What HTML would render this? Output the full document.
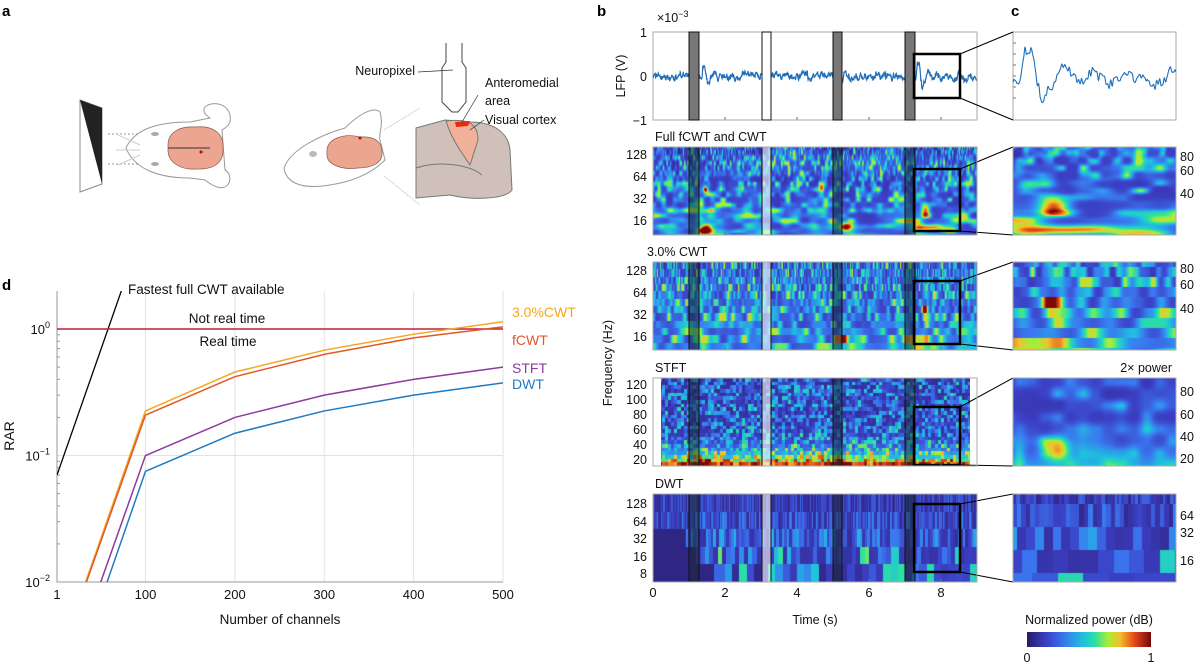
<!DOCTYPE html>
<html><head><meta charset="utf-8">
<style>
html,body{margin:0;padding:0;background:#fff;width:1200px;height:667px;overflow:hidden;}
#root{position:relative;width:1200px;height:667px;overflow:hidden;font-family:"Liberation Sans",sans-serif;}
canvas{position:absolute;display:block;}
svg{position:absolute;left:0;top:0;display:block;}
</style></head>
<body>
<div id="root">
<canvas id="cw1" style="left:653px;top:147px" width="324" height="88"></canvas>
<canvas id="cw1c" style="left:1013px;top:147px" width="163" height="88"></canvas>
<canvas id="cw3" style="left:653px;top:262px" width="324" height="88"></canvas>
<canvas id="cw3c" style="left:1013px;top:262px" width="163" height="88"></canvas>
<canvas id="st" style="left:661px;top:378px" width="309" height="88"></canvas>
<canvas id="stc" style="left:1013px;top:378px" width="163" height="88"></canvas>
<canvas id="dw" style="left:653px;top:494px" width="324" height="88"></canvas>
<canvas id="dwc" style="left:1013px;top:494px" width="163" height="88"></canvas>
<canvas id="cbar" style="left:1027px;top:632px" width="124" height="15"></canvas>

<svg id="svg" width="1200" height="667" viewBox="0 0 1200 667" font-family="Liberation Sans, sans-serif">
  <text x="2" y="16" font-size="15" font-weight="bold">a</text>
  <text x="597" y="16" font-size="15" font-weight="bold">b</text>
  <text x="1011" y="16" font-size="15" font-weight="bold">c</text>
  <text x="2" y="290" font-size="15" font-weight="bold">d</text>

  <g stroke="#999" fill="none" stroke-width="1">
    <polygon points="80,100 102,108 102,184 80,192" fill="#fff" stroke="#888"/>
    <polygon points="80,100 102,108 102,184" fill="#222" stroke="none"/>
    <line x1="108" y1="134" x2="148" y2="134" stroke-dasharray="2,2"/>
    <line x1="108" y1="164" x2="148" y2="164" stroke-dasharray="2,2"/>
    <path d="M126,148 C135,128 160,122 190,122 L210,118 C190,105 225,95 230,115 C232,125 225,128 222,130 L225,170 C235,175 230,200 205,180 L190,178 C160,178 135,170 126,148 Z" fill="#fff"/>
    <path d="M118,135 L140,145 M116,150 L140,150 M118,165 L140,155" stroke="#ccc"/>
    <ellipse cx="155" cy="134" rx="4" ry="2" fill="#aaa" stroke="none"/>
    <ellipse cx="155" cy="164" rx="4" ry="2" fill="#aaa" stroke="none"/>
    <path d="M168,145 C168,132 180,126 195,127 C215,125 224,135 223,148 C224,162 215,170 195,169 C180,170 168,162 168,150 Z" fill="#eba590" stroke="#8a5a4a" stroke-width="0.7"/>
    <line x1="168" y1="148" x2="210" y2="148" stroke="#333"/>
    <circle cx="201" cy="152" r="1.5" fill="#c00" stroke="none"/>
    <path d="M284,168 C290,150 320,135 345,128 C355,118 372,105 380,112 C384,125 378,135 380,140 L385,160 C370,175 350,182 330,185 C300,190 286,182 284,168 Z" fill="#fff"/>
    <ellipse cx="313" cy="154" rx="4" ry="3" fill="#bbb" stroke="none"/>
    <path d="M327,150 C328,138 345,133 360,137 C375,136 382,142 382,152 C383,163 372,168 358,168 C345,170 327,166 327,155 Z" fill="#eba590" stroke="#8a5a4a" stroke-width="0.7"/>
    <circle cx="360" cy="138" r="1.5" fill="#c00" stroke="none"/>
    <line x1="384" y1="130" x2="420" y2="108" stroke="#bbb" stroke-dasharray="1,1"/>
    <line x1="384" y1="176" x2="420" y2="205" stroke="#bbb" stroke-dasharray="1,1"/>
    <path d="M416,128 L445,120 L470,122 C490,122 508,130 510,150 L512,190 C505,200 470,200 450,195 L416,198 Z" fill="#cfc0ba" stroke="#777"/>
    <path d="M446,121 C470,118 478,125 478,140 L470,165 C460,150 452,140 446,121 Z" fill="#f0b09a" stroke="#777"/>
    <path d="M455,122 L470,121 L468,126 L456,127 Z" fill="#e52a10" stroke="none"/>
    <path d="M416,168 C440,160 470,165 482,175" stroke="#777"/>
    <path d="M446,43 L446,62 L442,68 L442,102 L452,112 L458,112 L466,102 L466,68 L462,62 L462,43" stroke="#444" fill="#fff"/>
  </g>
  <g font-size="12.5" fill="#111">
    <text x="415" y="75" text-anchor="end">Neuropixel</text>
    <line x1="418" y1="72" x2="453" y2="70" stroke="#333" stroke-width="0.7"/>
    <text x="485" y="87">Anteromedial</text>
    <text x="485" y="105">area</text>
    <text x="485" y="124">Visual cortex</text>
    <line x1="478" y1="95" x2="462" y2="122" stroke="#333" stroke-width="0.7"/>
    <line x1="484" y1="120" x2="470" y2="130" stroke="#333" stroke-width="0.7"/>
  </g>

  <g id="lfpAxes">
    <rect x="653" y="32" width="324" height="88" fill="none" stroke="#aaa" stroke-width="1"/>
  </g>
  <g font-size="12.5" fill="#111">
    <text x="657" y="22">×10<tspan dy="-5" font-size="9">−3</tspan></text>
    <text x="647" y="37" text-anchor="end">1</text>
    <text x="647" y="81" text-anchor="end">0</text>
    <text x="647" y="125" text-anchor="end">−1</text>
    <text transform="translate(625,76) rotate(-90)" text-anchor="middle">LFP (V)</text>
    <text x="655" y="141">Full fCWT and CWT</text>
    <text x="647" y="256">3.0% CWT</text>
    <text x="655" y="372">STFT</text>
    <text x="655" y="488">DWT</text>
    <text x="1172" y="372" text-anchor="end">2× power</text>
    <text transform="translate(612,363) rotate(-90)" text-anchor="middle">Frequency (Hz)</text>
    <text x="815" y="624" text-anchor="middle">Time (s)</text>
    <text x="1089" y="624" text-anchor="middle">Normalized power (dB)</text>
    <text x="1027" y="662" text-anchor="middle">0</text>
    <text x="1151" y="662" text-anchor="middle">1</text>
  </g>
  <rect x="1013" y="32" width="163" height="88" fill="none" stroke="#aaa"/>
  <g id="overlay"></g>
  <g id="ticks" font-size="12.5" fill="#111"></g>

  <defs><clipPath id="dclip"><rect x="57" y="291" width="446" height="291"/></clipPath></defs>
  <g id="dchart"></g>
</svg>
</div>
<script>
/* ---------- panel d data ---------- */
const channels = [1, 100, 200, 300, 400, 500];
const cwt3Values = [0.00226, 0.225, 0.457, 0.68, 0.91, 1.14];
const fcwtValues = [0.0022, 0.209, 0.42, 0.63, 0.85, 1.04];
const stftValues = [0.00105, 0.1, 0.2, 0.30, 0.40, 0.50];
const dwtValues = [0.00072, 0.075, 0.15, 0.225, 0.30, 0.375];
const fastestChannels = [1, 73];
const fastestValues = [0.07, 2.0];
const realTimeThreshold = 1;
const xTickLabels = [1, 100, 200, 300, 400, 500];
const yTickExps = [0, -1, -2];
const seriesNames = ['3.0%CWT', 'fCWT', 'STFT', 'DWT'];

const NS = 'http://www.w3.org/2000/svg';
function mk(tag, attrs, parent){const e=document.createElementNS(NS,tag);for(const k in attrs)e.setAttribute(k,attrs[k]);if(parent)parent.appendChild(e);return e;}

(function drawD(){
  const g=document.getElementById('dchart');
  const X0=57,X1=503,Y0=582,Y1=291;
  const xs=c=>X0+(c-1)/(500-1)*(X1-X0);
  const ys=v=>329-Math.log10(v)*126.5;
  for(const c of xTickLabels.slice(1)){
    const l=mk('line',{x1:xs(c),x2:xs(c),y1:Y1,y2:Y0,stroke:'#e2e2e2'},g);
    
    
  }
  const gl=mk('line',{x1:X0,x2:X1,y1:ys(0.1),y2:ys(0.1),stroke:'#e2e2e2'},g);
  
  
  const ax=mk('path',{d:`M${X0},${Y1} L${X0},${Y0} L${X1},${Y0}`,stroke:'#999',fill:'none'},g);
  
  
  for(const e of [-2,-1,0]){for(let m=2;m<=9;m++){const v=m*Math.pow(10,e);const y=ys(v);if(y<Y1)continue;mk('line',{x1:X0,x2:X0+3,y1:y,y2:y,stroke:'#999'},g);}}
  for(const c of xTickLabels){
    const t=mk('text',{x:xs(c),y:599,'font-size':13,'text-anchor':'middle',fill:'#111'},g);t.textContent=c;
    
    
  }
  for(const e of yTickExps){
    const t=mk('text',{x:50,y:ys(Math.pow(10,e))+5,'font-size':13,'text-anchor':'end',fill:'#111'},g);
    t.innerHTML='10<tspan dy="-6" font-size="9">'+(e===0?'0':'−'+(-e))+'</tspan>';
    
    
  }
  const cg=mk('g',{'clip-path':'url(#dclip)'},g);
  const fl=mk('polyline',{points:fastestChannels.map((c,i)=>xs(c)+','+ys(fastestValues[i])).join(' '),stroke:'#000',fill:'none','stroke-width':1.3},cg);
  
  
  const th=mk('line',{x1:X0,x2:X1,y1:ys(realTimeThreshold),y2:ys(realTimeThreshold),stroke:'#c21f3a','stroke-width':1.5},cg);
  
  
  const series=[[cwt3Values,'#f2a81d'],[fcwtValues,'#e3562a'],[stftValues,'#8b3b9e'],[dwtValues,'#1f7ac4']];
  series.forEach(([vals,col],i)=>{
    const p=mk('polyline',{points:channels.map((c,j)=>xs(c)+','+ys(vals[j])).join(' '),stroke:col,fill:'none','stroke-width':1.5},cg);
    
    
  });
  const legY=[312,340,368,384];
  seriesNames.forEach((n,i)=>{
    const t=mk('text',{x:512,y:legY[i]+5,'font-size':14,fill:series[i][1]},g);t.textContent=n;
    
    
  });
  const lab=[['Fastest full CWT available',128,294,'start'],['Not real time',227,323,'middle'],['Real time',228,346,'middle'],['Number of channels',280,624,'middle']];
  for(const [s,x,y,a] of lab){const t=mk('text',{x,y,'font-size':13.5,'text-anchor':a,fill:'#111'},g);t.textContent=s;
    
    }
  const r=mk('text',{transform:'translate(14,436) rotate(-90)','font-size':14,'text-anchor':'middle',fill:'#111'},g);r.textContent='RAR';
  
  
})();

/* ---------- textures ---------- */
function hash(i,j,s){let h=(Math.imul(i,374761393)+Math.imul(j,668265263)+Math.imul(s,1442695041))|0;h=Math.imul(h^(h>>>13),1274126177);h^=h>>>16;return (h>>>0)/4294967296;}
function vn(x,y,s){const xi=Math.floor(x),yi=Math.floor(y),fx=x-xi,fy=y-yi;const u=fx*fx*(3-2*fx),v=fy*fy*(3-2*fy);const a=hash(xi,yi,s),b=hash(xi+1,yi,s),c=hash(xi,yi+1,s),d=hash(xi+1,yi+1,s);return a+(b-a)*u+(c-a)*v+(a-b-c+d)*u*v;}
const stops=[[0,[43,27,107]],[0.15,[59,63,196]],[0.3,[58,120,240]],[0.45,[31,193,224]],[0.55,[45,224,160]],[0.65,[165,238,58]],[0.75,[245,193,42]],[0.87,[228,72,28]],[1,[122,10,10]]];
function cmap(v){v=Math.max(0,Math.min(1,v));for(let i=1;i<stops.length;i++){if(v<=stops[i][0]){const a=stops[i-1],b=stops[i],f=(v-a[0])/(b[0]-a[0]);return [0,1,2].map(k=>a[1][k]+(b[1][k]-a[1][k])*f);}}return stops[stops.length-1][1];}
function bump(t,y,bs){let s=0;for(const b of bs){s+=b[2]*Math.exp(-((t-b[0])**2)/(2*b[3]**2)-((y-b[1])**2)/(2*b[4]**2));}return s;}
function paint(id,t0,t1,y0,y1,fn){const c=document.getElementById(id),ctx=c.getContext('2d'),W=c.width,H=c.height,img=ctx.createImageData(W,H);
  for(let j=0;j<H;j++){const yf=y0+(y1-y0)*(j+0.5)/H;for(let i=0;i<W;i++){const t=t0+(t1-t0)*(i+0.5)/W;const col=cmap(fn(t,yf));const k=(j*W+i)*4;img.data[k]=col[0];img.data[k+1]=col[1];img.data[k+2]=col[2];img.data[k+3]=255;}}
  ctx.putImageData(img,0,0);}
const b1=[[1.45,0.93,0.75,0.13,0.04],[5.35,0.91,0.75,0.13,0.04],[1.45,0.48,0.35,0.05,0.04],[7.55,0.72,0.55,0.08,0.05],[7.7,0.92,0.5,0.3,0.025],[4.7,0.45,0.3,0.06,0.04],[1.6,0.78,0.3,0.1,0.04]];
function lvl(t,y,k){const sx=0.028*Math.pow(1.75,k);return vn(t/sx,y/0.06,20+k);}
function fCWT(t,y){const L=y*5;const k0=Math.floor(L),f=L-k0;const n=lvl(t,y,k0)*(1-f)+lvl(t,y,k0+1)*f;const nn=Math.min(1,Math.max(0,(n-0.5)*1.5+0.5));
  const m=vn(t/0.6,y/0.2,7);return 0.06+0.5*Math.pow(nn,2.0)+0.15*m*m+0.1*y+bump(t,y,b1);}
const b3=[[1.4,0.91,0.8,0.1,0.04],[5.3,0.89,0.8,0.1,0.04],[7.55,0.55,0.5,0.06,0.04],[7.5,0.92,0.45,0.25,0.05],[1.3,0.48,0.3,0.06,0.04]];
function pCWT(t,y){const r=Math.floor(y*12);const rf=r/11;const sx=0.03+0.2*rf*rf;const n=vn(t/sx,r*7.3,2);return 0.1+0.62*Math.pow(n,1.8)+0.08*rf+bump(t,(r+0.5)/12,b3);}
function stft(t,y){const ti=Math.floor(t/0.085),yi=Math.floor(y*24);const n=hash(ti,yi,3);const yb=(yi+0.5)/24;let v=0.08+0.45*Math.pow(n,2.2)+0.75*Math.pow(yb,7);if(yi>=23)v=0.75+0.25*n;return v+bump(t,yb,[[1.4,0.95,0.3,0.2,0.04],[5.2,0.95,0.3,0.2,0.04]]);}
function stftC(t,y){const n=vn(t/0.1,y/0.09,4);return 0.12+0.35*n*n+0.25*Math.pow(y,6)+bump(t,y,[[7.6,0.88,0.55,0.07,0.06]]);}
const dwtW=[0.018,0.035,0.07,0.12,0.2],dwtLo=[0.05,0.06,0.08,0.1,0.05],dwtHi=[0.22,0.28,0.35,0.5,0.55];
function dwt(t,y){const r=Math.min(4,Math.floor(y*5));const n=hash(Math.floor(t/dwtW[r]),r,5);let v=dwtLo[r]+dwtHi[r]*Math.pow(n,r>=3?2.2:1.3);if(r>=2&&t<(r===4?1.7:1.5)-0.3*(4-r))v=0.04;return v;}
const bx0=(914-653)/36,bx1=(960-653)/36;
paint('cw1',0,9,0,1,fCWT);paint('cw1c',bx0,bx1,0.25,0.955,fCWT);
paint('cw3',0,9,0,1,pCWT);paint('cw3c',bx0,bx1,0.21,0.93,pCWT);
paint('st',(661-653)/36,(970-653)/36,0,1,stft);paint('stc',bx0,bx1,0.33,1,stftC);
paint('dw',0,9,0,1,dwt);paint('dwc',bx0,bx1,0.11,0.88,dwt);
(function(){const c=document.getElementById('cbar'),ctx=c.getContext('2d');for(let i=0;i<c.width;i++){const col=cmap(i/(c.width-1));ctx.fillStyle=`rgb(${col[0]|0},${col[1]|0},${col[2]|0})`;ctx.fillRect(i,0,1,c.height);}})();

/* ---------- LFP ---------- */
const burstTimes=[1.35,5.0,7.3];
function lfp(t){let v=0.1*(vn(t/0.012,0,9)-0.5)+0.14*(vn(t/0.04,3,10)-0.5)+0.1*(vn(t/0.15,5,11)-0.5);
  for(const b of burstTimes){const d=t-b;if(d>0){v+=0.42*Math.exp(-d/0.28)*Math.sin(2*Math.PI*3.7*d)*Math.min(1,d/0.03);}}return v;}
(function(){
  const ov=document.getElementById('overlay');
  const xt=t=>653+t*36;
  let pts=[];for(let t=0;t<=9;t+=0.004){pts.push(xt(t).toFixed(1)+','+(76-lfp(t)*44).toFixed(1));}
  const p=mk('polyline',{points:pts.join(' '),fill:'none',stroke:'#1f6fb8','stroke-width':1.2},ov);
  
  
  pts=[];for(let t=bx0;t<=bx1;t+=0.002){pts.push((1013+(t-bx0)/(bx1-bx0)*163).toFixed(1)+','+(76-lfp(t)*88).toFixed(1));}
  const pc=mk('polyline',{points:pts.join(' '),fill:'none',stroke:'#1f6fb8','stroke-width':1.1},ov);
  
  
  const panels=[[32,120,54,98,true],[147,235,169,231,false],[262,350,281,344,false],[378,466,407,465,false],[494,582,504,572,false]];
  const bars=[[689,699,0],[762,771,1],[833,842,0],[905,915,0]];
  panels.forEach(([top,bot,bt,bb,isL])=>{
    for(const [a,b,w] of bars){
      const r=mk('rect',{x:a,y:top,width:b-a,height:bot-top,fill:isL?(w?'#fff':'#777'):(w?'rgba(255,255,255,0.6)':'rgba(20,40,40,0.5)'),stroke:'#111','stroke-width':1},ov);
      
      
    }
    const bx=mk('rect',{x:914,y:bt,width:46,height:bb-bt,fill:'none',stroke:'#000','stroke-width':2.5},ov);
    
    
    mk('line',{x1:960,y1:bt,x2:1013,y2:top,stroke:'#000','stroke-width':1},ov);
    mk('line',{x1:960,y1:bb,x2:1013,y2:bot,stroke:'#000','stroke-width':1},ov);
    if(!isL){mk('rect',{x:653,y:top,width:324,height:bot-top,fill:'none',stroke:'#aaa'},ov);mk('rect',{x:1013,y:top,width:163,height:bot-top,fill:'none',stroke:'#aaa'},ov);}
    for(const t of [2,4,6,8]) mk('line',{x1:xt(t),x2:xt(t),y1:bot,y2:bot-3,stroke:'#777'},ov);
  });
  for(let i=1;i<7;i++) mk('line',{x1:1013,x2:1016,y1:32+i*11,y2:32+i*11,stroke:'#777'},ov);
  const tk=document.getElementById('ticks');
  const labs=[[[128,154],[64,176],[32,198],[16,220]],[[128,270],[64,292],[32,314],[16,336]],[[120,384],[100,399],[80,414],[60,429],[40,444],[20,459]],[[128,503],[64,521],[32,538],[16,556],[8,573]]];
  for(const set of labs)for(const [v,y] of set){const t=mk('text',{x:647,y:y+5,'text-anchor':'end'},tk);t.textContent=v;
    
    }
  const rl=[[80,156],[60,170],[40,193],[80,268],[60,284],[40,308],[80,391],[60,414],[40,436],[20,458],[64,515],[32,532],[16,560]];
  for(const [v,y] of rl){const t=mk('text',{x:1180,y:y+5},tk);t.textContent=v;
    
    }
  for(const s of [0,2,4,6,8]){const t=mk('text',{x:xt(s),y:597,'text-anchor':'middle','font-size':13},tk);t.textContent=s;
    
    }
})();
</script>
</body></html>
